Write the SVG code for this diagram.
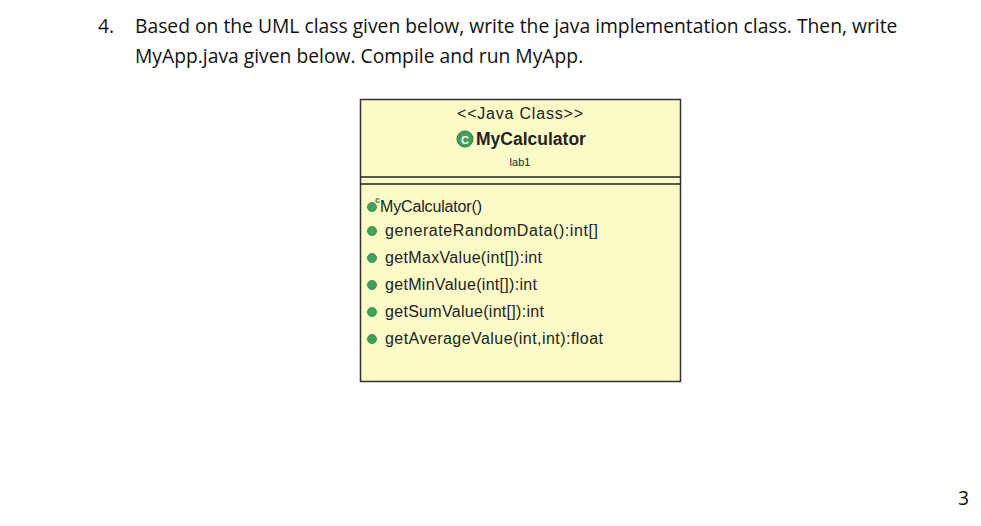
<svg xmlns="http://www.w3.org/2000/svg" width="981" height="526" viewBox="0 0 981 526">
<style>
.q{font-family:"Open Sans","Liberation Sans",sans-serif;font-size:19.3px;fill:#111}
.m{font-family:"Liberation Sans",Arial,sans-serif;font-size:16px;fill:#222}
.dot{fill:#3fa45a;stroke:#2a7a3f;stroke-width:0.8}
</style>
<rect width="981" height="526" fill="#fff"/>
<text class="q" x="98" y="33">4.</text>
<text class="q" x="135" y="33">Based on the UML class given below, write the java implementation class. Then, write</text>
<text class="q" x="135" y="63">MyApp.java given below. Compile and run MyApp.</text>
<g id="MyCalculator">
<rect x="360.5" y="99.5" width="320" height="282" fill="#fbfbc8" stroke="#333" stroke-width="1.5"/>
<line x1="360" y1="177" x2="681" y2="177" stroke="#222" stroke-width="1.5"/>
<line x1="360" y1="184" x2="681" y2="184" stroke="#222" stroke-width="1.5"/>
<text class="m" x="520" y="119" text-anchor="middle" textLength="126">&lt;&lt;Java Class&gt;&gt;</text>
<circle cx="465" cy="139" r="8" fill="#3fa45a" stroke="#2a7a3f"/>
<text x="465" y="143.5" text-anchor="middle" font-family="Liberation Sans,sans-serif" font-size="11" font-weight="bold" fill="#fff">C</text>
<text class="m" x="476" y="145" style="font-size:17.5px;font-weight:bold">MyCalculator</text>
<text class="m" x="520" y="166" text-anchor="middle" style="font-size:11px">lab1</text>
<circle class="dot" cx="372" cy="207" r="4.5"/>
<text x="375" y="203" font-family="Liberation Sans,sans-serif" font-size="9" font-weight="bold" fill="#2a7a3f">c</text>
<text class="m" x="380" y="212" textLength="102">MyCalculator()</text>
<circle class="dot" cx="372" cy="231" r="4.5"/>
<text class="m" x="385" y="236" textLength="213">generateRandomData():int[]</text>
<circle class="dot" cx="372" cy="258" r="4.5"/>
<text class="m" x="385" y="263" textLength="157">getMaxValue(int[]):int</text>
<circle class="dot" cx="372" cy="285" r="4.5"/>
<text class="m" x="385" y="290" textLength="152">getMinValue(int[]):int</text>
<circle class="dot" cx="372" cy="312" r="4.5"/>
<text class="m" x="385" y="317" textLength="159">getSumValue(int[]):int</text>
<circle class="dot" cx="372" cy="339" r="4.5"/>
<text class="m" x="385" y="344" textLength="218">getAverageValue(int,int):float</text>
</g>
<text class="q" x="958" y="505">3</text>
</svg>
